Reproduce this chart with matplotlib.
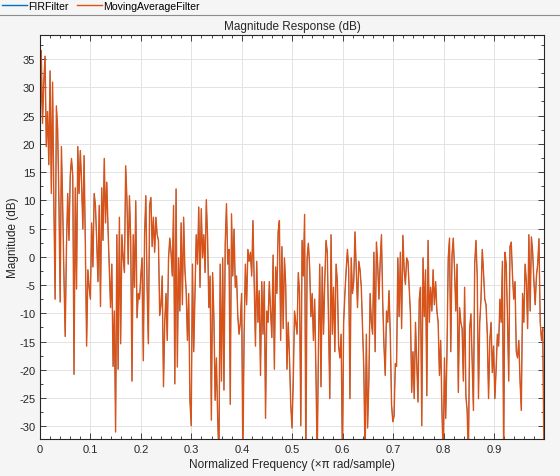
import numpy as np
import matplotlib
matplotlib.use("Agg")
import matplotlib.pyplot as plt
from matplotlib.ticker import MultipleLocator
from matplotlib.lines import Line2D

plt.rcParams['font.family'] = ['Liberation Sans', 'DejaVu Sans']
plt.rcParams['axes.unicode_minus'] = False

# ---------------- data ----------------
series_names = ["FIRFilter", "MovingAverageFilter"]
series_colors = ["#0072BD", "#D95319"]

x_tick_values = [0, 0.1, 0.2, 0.3, 0.4, 0.5, 0.6, 0.7, 0.8, 0.9]
x_tick_labels = ["0", "0.1", "0.2", "0.3", "0.4", "0.5", "0.6", "0.7", "0.8", "0.9"]
y_tick_values = [-30, -25, -20, -15, -10, -5, 0, 5, 10, 15, 20, 25, 30, 35]

# magnitude response in dB, sampled uniformly over normalized frequency 0 .. 0.999
fir_db = [
    19.5, 36.5, 23.6, 30.9, 35.5, 19.5, 25.7, 16.3, 32.9, 11.2,
    30.9, 9.6, -7.5, 26.7, 22.6, 10.1, -8.0, 19.5, 9.1, -3.4,
    -14.1, 1.8, 11.2, 2.9, 14.3, 17.4, 14.3, -20.8, 12.2, -5.7,
    19.5, 11.2, 18.8, 13.2, 4.9, 17.9, 1.8, -15.8, -2.3, -5.4,
    -7.5, 6.0, -1.8, 11.2, 9.1, 2.9, -4.4, 9.1, -8.8, 12.2,
    2.9, 17.4, 6.0, 13.2, 4.9, -2.3, -9.0, -1.3, -19.4, -9.6,
    -31.0, 3.9, -19.9, 7.0, -15.4, 3.9, -0.2, -2.8, 16.1, 10.1,
    -1.3, 10.8, 2.9, -22.0, 3.9, -5.4, 9.9, -10.8, -6.5, -7.5,
    -3.4, -0.2, -18.4, 3.9, 10.8, -5.4, -15.4, 9.1, 10.5, 1.8,
    7.0, 0.8, 7.0, 3.9, 2.9, -10.4, -8.5, -3.4, -23.0, -11.6,
    -6.5, -14.8, -0.4, 3.3, 0.8, -3.4, 9.1, -22.5, 12.0, -19.5,
    -0.2, -9.6, 6.0, -8.5, 7.0, -2.3, -6.0, -14.8, -6.5, -25.4,
    -29.9, -1.3, -16.8, -6.5, 3.9, -1.3, 8.8, -5.4, 8.5, -0.2,
    3.9, -2.8, 10.1, 3.4, -9.0, -3.4, -28.9, -2.8, -10.6, -25.4,
    -17.9, -28.2, -36.0, -1.3, -22.0, -0.2, -23.6, 2.4, 9.4, -1.3,
    1.3, -26.1, 7.6, -3.4, 4.9, -5.4, -3.4, -10.6, -13.7, -11.6,
    -6.5, -36.0, -13.7, -1.3, -8.5, 1.3, -0.8, 0.8, -3.4, 6.4,
    -4.4, -15.8, -0.8, -11.6, -6.0, -21.0, -4.4, -13.7, -4.4, -28.6,
    -9.6, -11.6, -4.4, -9.6, -14.3, 0.3, -19.9, -1.8, -6.5, 4.4,
    6.4, -14.8, 1.8, -12.7, -0.2, -4.9, -19.9, -11.6, -17.9, -26.1,
    -30.3, -22.0, -9.6, -11.6, -13.7, -2.8, -6.5, -29.9, 2.9, -3.4,
    7.5, -36.0, -0.2, 2.4, -1.8, -10.6, -6.5, -14.8, -7.5, -20.5,
    -36.0, -15.8, -1.3, -23.0, -1.8, -13.7, -4.4, 2.9, 0.8, -11.6,
    -25.1, 3.9, -13.7, -5.4, -16.8, -1.3, -4.4, -15.8, -17.9, -13.7,
    -36.0, -11.6, -6.5, -2.3, 1.3, -2.3, -25.1, -0.2, -6.5, -4.4,
    4.4, -2.3, -9.0, -0.8, -2.3, -5.4, -12.7, -19.9, -36.0, -13.7,
    -30.3, -22.0, -6.5, -11.6, -13.7, 0.8, -16.8, 2.6, -1.3, -7.5,
    -0.8, 3.9, -8.0, -15.8, -21.0, -9.6, -11.6, -6.0, -13.7, -26.1,
    -29.2, -28.2, -18.9, -19.4, -0.2, -10.6, 0.8, -12.7, 3.8, -2.3,
    -4.9, -0.2, -0.8, -5.4, -10.1, -24.0, -16.8, -25.1, -11.6, -18.9,
    -25.7, -7.5, -5.4, -29.9, -0.2, -10.6, -2.3, -24.6, 2.9, -11.6,
    -5.4, -9.6, -2.3, -8.5, -4.4, -9.6, -11.6, -21.0, -14.8, -27.2,
    -36.0, -17.9, -28.6, -16.8, -0.2, 3.3, -16.8, 0.3, 3.3, -2.3,
    -9.6, -1.3, -24.0, -9.0, -11.6, -12.7, -22.0, -5.4, -24.6, -27.2,
    -36.0, -12.7, -10.1, -18.9, -27.2, -1.3, 2.9, -3.4, -25.1, -11.6,
    -7.5, 1.3, -2.8, -7.5, -8.5, -13.7, -25.1, -14.8, -11.6, -20.5,
    -15.8, -25.1, -19.9, -13.7, -15.8, -7.5, -11.6, -0.8, -36.0, 0.8,
    -1.3, -10.6, -22.0, 1.8, 2.6, -3.4, -7.5, -4.4, -16.8, -17.9,
    -14.8, -22.0, -27.2, -6.5, -11.6, -1.3, -4.4, -12.7, 3.9, -9.6,
    3.5, 0.8, -4.4, -8.5, -3.4, -1.3, 3.2, -11.6, -14.8, -12.7,
    -36.0,
]
# the moving-average filter response coincides with the FIR response in the reference
moving_average_db = list(fir_db)

freq = np.linspace(0, 0.999, len(fir_db))

# ---------------- figure ----------------
W, H = 560, 477
fig = plt.figure(figsize=(W / 100, H / 100), dpi=100, facecolor="#f5f5f5")
ax = fig.add_axes([40 / W, (H - 440) / H, 504 / W, 404 / H])
ax.set_facecolor("white")

l1, = ax.plot(freq, fir_db, color=series_colors[0], lw=0.45, label=series_names[0])
l2, = ax.plot(freq, moving_average_db, color=series_colors[1], lw=1.0, label=series_names[1])

ax.set_xlim(0, 0.999)
ax.set_ylim(-32.25, 39.25)
ax.set_xticks(x_tick_values)
ax.set_xticklabels(x_tick_labels)
ax.set_yticks(y_tick_values)
ax.xaxis.set_minor_locator(MultipleLocator(0.02))
ax.yaxis.set_minor_locator(MultipleLocator(2.5))

ax.grid(True, which="major", color="#e3e3e3", lw=0.7)
ax.set_axisbelow(True)

dark = "#262626"
for s in ax.spines.values():
    s.set_color(dark)
    s.set_linewidth(0.8)
ax.tick_params(which="both", direction="in", top=True, right=True, colors=dark,
               labelcolor=dark, labelsize=8)
ax.tick_params(which="major", length=4, width=0.6)
ax.tick_params(which="minor", length=2, width=0.6)

ax.set_title("Magnitude Response (dB)", fontsize=8.5, color=dark, pad=4)
ax.set_xlabel("Normalized Frequency (\u00d7\u03c0 rad/sample)", fontsize=8.5, color=dark, labelpad=3)
ax.set_ylabel("Magnitude (dB)", fontsize=8.5, color=dark, labelpad=0)

leg = fig.legend(handles=[l1, l2], loc="upper left", bbox_to_anchor=(0.0, 1.0), ncol=2,
                 frameon=False, fontsize=7.6, handlelength=2.4, handletextpad=0.1,
                 columnspacing=0.8, borderaxespad=0.0, borderpad=0.15)
for h in leg.legend_handles:
    h.set_linewidth(1.0)

fig.add_artist(Line2D([0, 1], [1 - 15.5 / H, 1 - 15.5 / H], transform=fig.transFigure,
                      color="#8c8c8c", lw=0.8))

fig.savefig("out.png", dpi=100, facecolor=fig.get_facecolor())
